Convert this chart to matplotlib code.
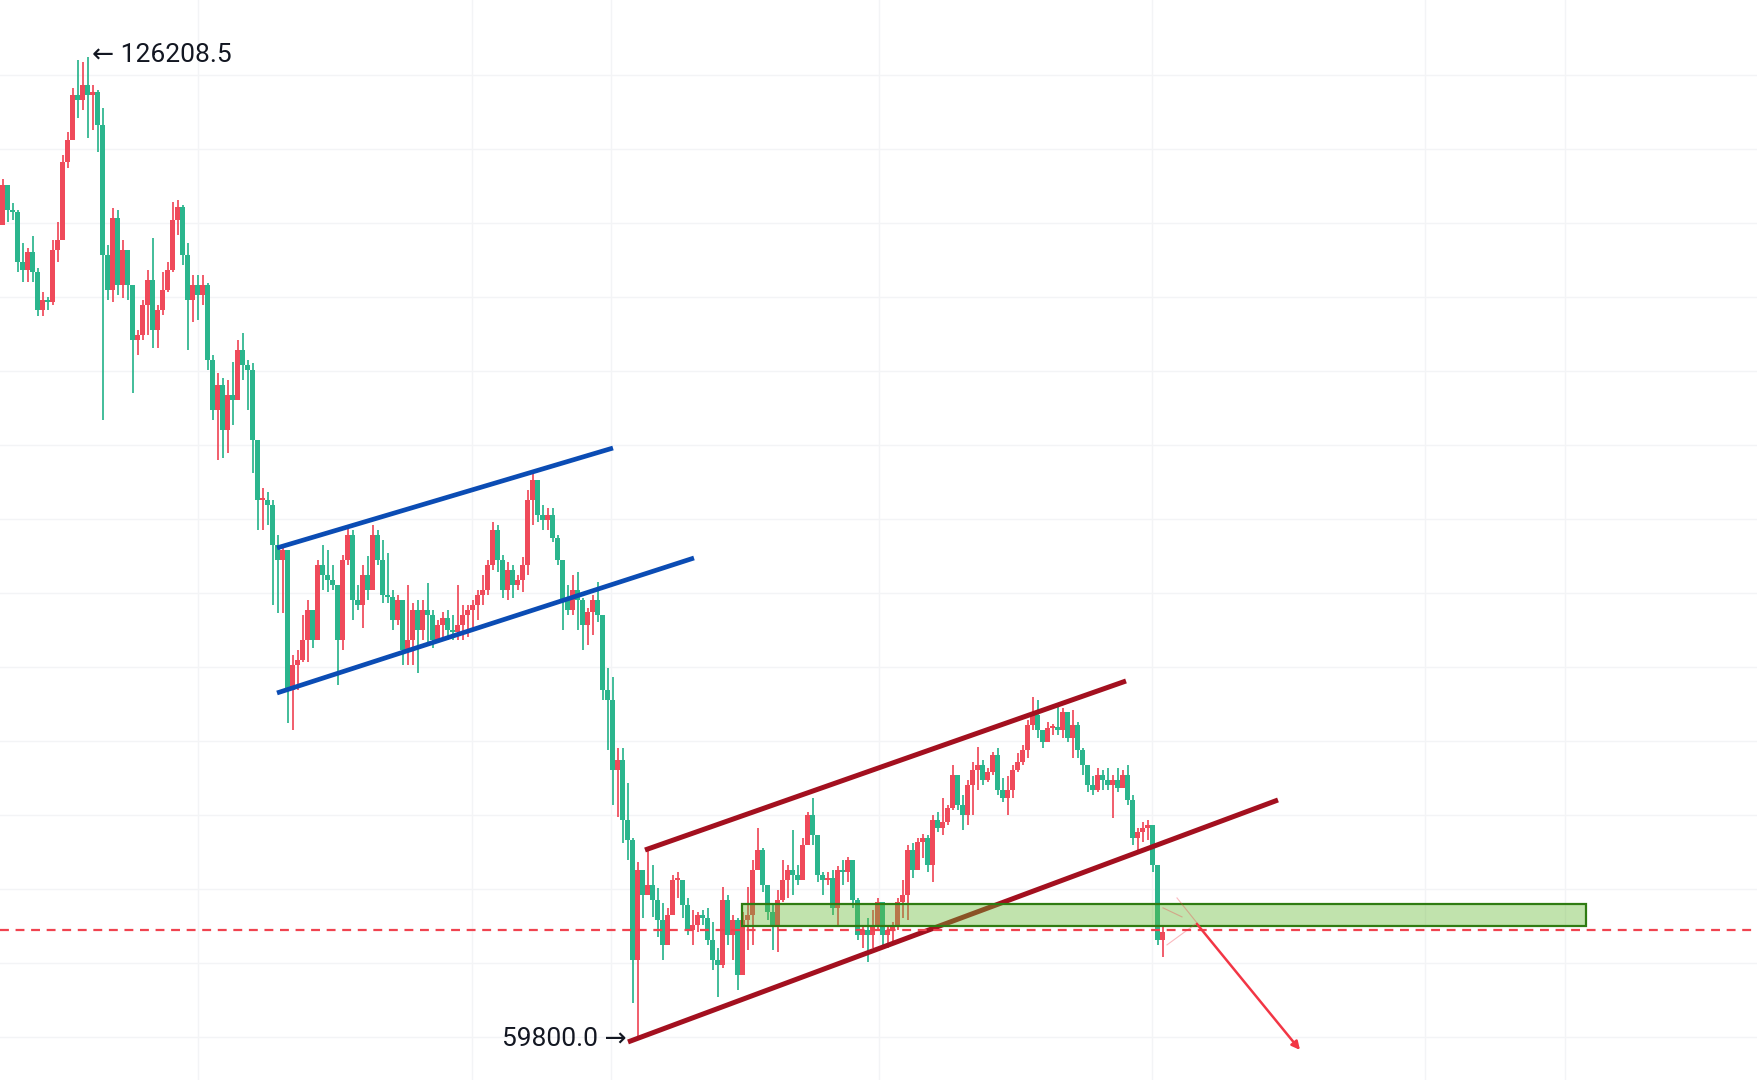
import numpy as np
import matplotlib
matplotlib.use('Agg')
import matplotlib.pyplot as plt
from matplotlib.patches import Rectangle

# BTC candles, prices in thousands of USD
OPEN_FIRST = 114.9
HIGH = [
    118.0, 117.57, 116.35, 115.88, 113.65, 113.32, 114.13, 111.96, 110.34, 110.0,
    113.86, 115.07, 119.6, 121.15, 124.12, 126.02, 125.88, 126.2085, 124.33, 123.99,
    122.77, 113.52, 116.02, 115.88, 113.86, 112.84, 110.48, 107.78, 109.8, 111.83,
    113.99, 109.46, 111.69, 112.37, 116.42, 116.56, 116.22, 113.65, 111.49, 111.49,
    111.49, 110.95, 106.09, 104.87, 104.53, 104.4, 105.61, 107.1, 107.57, 105.75,
    105.55, 100.34, 97.1, 96.83, 96.29, 93.92, 93.25, 92.57, 85.82, 86.16,
    88.52, 89.53, 88.72, 92.24, 93.25, 92.91, 91.9, 90.55, 92.57, 94.4,
    94.26, 90.55, 91.9, 92.51, 94.6, 94.26, 93.59, 92.71, 90.21, 89.87,
    89.53, 90.55, 89.33, 89.53, 89.53, 90.68, 88.86, 88.18, 88.72, 88.86,
    88.52, 90.55, 89.2, 89.2, 89.53, 90.21, 91.22, 92.24, 94.8, 94.6,
    92.57, 92.1, 91.9, 91.22, 92.44, 96.97, 98.11, 97.3, 95.95, 95.75,
    95.75, 93.92, 92.24, 90.55, 91.22, 91.43, 89.67, 88.99, 89.87, 90.75,
    88.18, 84.94, 84.33, 79.54, 79.54, 77.17, 73.45, 71.83, 70.96, 72.78,
    71.63, 70.08, 69.06, 68.73, 70.96, 71.16, 70.48, 69.4, 68.59, 68.46,
    68.59, 68.73, 67.78, 66.03, 70.14, 69.6, 68.25, 68.05, 68.46, 70.14,
    71.97, 74.13, 72.78, 70.28, 68.93, 69.94, 71.97, 71.63, 74.0, 71.63,
    73.45, 75.21, 76.16, 73.32, 71.16, 71.16, 71.29, 71.56, 71.97, 72.17,
    71.97, 69.4, 67.58, 68.05, 68.59, 69.4, 69.13, 67.58, 67.78, 69.4,
    70.62, 72.98, 73.12, 73.45, 73.72, 73.66, 75.01, 75.21, 76.16, 75.68,
    78.39, 77.71, 76.36, 77.37, 78.59, 79.6, 78.73, 78.18, 79.26, 79.54,
    77.51, 77.64, 78.39, 79.2, 79.74, 81.43, 82.98, 82.78, 80.75, 81.29,
    81.16, 82.44, 82.24, 81.56, 82.1, 81.29, 79.54, 78.39, 77.64, 78.18,
    78.05, 78.18, 77.71, 78.18, 78.05, 78.39, 76.36, 74.13, 74.54, 74.67,
    74.34, 71.63, 67.58,
]
LOW = [
    114.9, 115.07, 115.21, 111.69, 111.02, 111.02, 111.02, 108.72, 108.72, 109.13,
    109.46, 112.37, 116.22, 118.72, 120.61, 122.1, 122.64, 120.75, 121.29, 119.8,
    101.69, 109.8, 109.67, 110.14, 109.94, 109.8, 103.52, 106.09, 107.1, 107.44,
    106.56, 106.56, 108.79, 110.34, 111.69, 114.19, 112.17, 106.42, 108.32, 108.45,
    109.46, 105.07, 101.69, 98.99, 99.13, 99.47, 101.36, 103.05, 104.4, 102.37,
    98.11, 94.26, 94.26, 94.6, 89.2, 88.66, 88.66, 81.22, 80.75, 83.45,
    85.35, 85.35, 86.29, 86.83, 90.21, 90.07, 90.21, 83.79, 86.16, 91.9,
    88.18, 88.86, 87.64, 89.53, 91.22, 91.9, 89.33, 89.33, 87.51, 87.85,
    85.14, 85.14, 85.14, 84.6, 86.83, 86.63, 86.29, 86.83, 86.83, 86.83,
    86.83, 86.83, 86.83, 87.03, 87.64, 88.18, 89.2, 89.87, 91.56, 91.43,
    89.67, 89.53, 89.67, 90.21, 90.07, 91.22, 94.6, 94.8, 94.26, 94.26,
    93.45, 91.9, 87.51, 88.52, 88.52, 87.51, 86.16, 86.49, 87.17, 88.05,
    82.78, 79.4, 75.68, 74.87, 73.12, 71.97, 62.31, 59.8, 68.05, 69.8,
    68.12, 66.77, 65.21, 66.23, 68.25, 69.4, 68.05, 66.9, 66.23, 67.11,
    67.58, 66.23, 64.54, 62.71, 64.67, 66.23, 65.21, 63.19, 65.42, 65.89,
    66.23, 71.43, 69.8, 67.91, 65.89, 65.75, 69.13, 69.4, 69.6, 70.28,
    70.96, 72.98, 72.98, 70.48, 69.6, 70.28, 68.25, 67.58, 70.28, 70.48,
    68.73, 66.56, 66.03, 65.08, 66.03, 67.24, 66.23, 66.03, 66.43, 67.24,
    68.05, 67.91, 70.75, 71.29, 72.1, 71.16, 70.48, 73.86, 73.66, 74.34,
    75.35, 75.35, 74.0, 74.34, 75.01, 76.7, 77.04, 77.24, 77.71, 76.36,
    75.89, 75.01, 76.16, 77.91, 78.39, 78.86, 80.75, 80.21, 79.54, 80.08,
    80.41, 80.41, 80.21, 79.94, 78.86, 78.86, 77.71, 76.56, 76.36, 76.56,
    76.7, 76.7, 74.81, 76.56, 76.97, 75.68, 72.98, 72.64, 73.18, 73.32,
    71.16, 66.23, 65.42,
]
CLOSE = [
    117.57, 115.88, 115.75, 112.37, 111.83, 113.04, 111.69, 109.13, 109.8, 109.67,
    113.18, 113.86, 119.13, 120.61, 123.65, 123.31, 124.33, 123.65, 123.85, 121.63,
    112.84, 110.48, 115.34, 110.82, 113.18, 110.82, 107.1, 107.44, 109.46, 111.15,
    107.78, 109.13, 110.48, 111.83, 115.21, 116.09, 112.84, 109.8, 110.82, 110.14,
    110.82, 105.75, 102.37, 104.06, 101.02, 103.38, 103.05, 106.42, 105.41, 105.07,
    100.34, 96.29, 96.29, 95.95, 93.25, 92.24, 92.91, 83.45, 85.14, 85.48,
    86.83, 88.86, 86.83, 91.9, 91.22, 90.88, 90.55, 86.83, 92.24, 93.92,
    89.53, 89.2, 91.22, 90.21, 93.92, 92.24, 89.87, 89.74, 88.18, 89.53,
    86.16, 86.83, 88.86, 87.51, 88.86, 88.52, 86.83, 87.85, 88.32, 87.51,
    87.37, 87.85, 88.52, 88.86, 89.2, 89.87, 90.21, 91.9, 94.26, 92.24,
    90.21, 91.56, 90.55, 90.88, 91.9, 96.29, 97.64, 95.28, 94.94, 95.28,
    93.72, 92.24, 89.53, 88.86, 90.21, 89.53, 87.85, 88.72, 89.53, 88.52,
    83.45, 82.78, 78.05, 78.73, 74.67, 73.32, 65.21, 71.29, 69.6, 70.28,
    69.27, 67.91, 66.23, 68.25, 70.62, 70.62, 68.93, 67.24, 67.58, 68.25,
    68.05, 66.56, 65.21, 64.87, 69.27, 66.9, 67.91, 64.2, 67.91, 68.25,
    71.29, 72.64, 70.28, 68.46, 67.58, 69.27, 70.62, 71.29, 70.96, 70.62,
    72.98, 75.01, 73.66, 70.96, 70.62, 70.75, 68.73, 71.29, 71.16, 71.97,
    69.27, 66.9, 67.24, 66.9, 67.58, 69.13, 66.9, 67.24, 67.58, 69.13,
    69.6, 72.64, 71.29, 73.18, 73.45, 71.63, 74.67, 74.13, 74.54, 75.48,
    77.71, 75.68, 75.01, 77.04, 78.05, 78.39, 77.37, 77.91, 79.06, 76.7,
    76.16, 76.7, 78.05, 78.59, 79.4, 81.09, 81.77, 80.75, 79.94, 80.89,
    80.95, 80.75, 81.97, 80.21, 81.09, 79.4, 78.39, 77.04, 76.7, 77.71,
    77.37, 77.04, 77.37, 76.83, 77.71, 76.02, 73.45, 73.86, 74.13, 74.34,
    71.63, 66.56, 67.11,
]

# drawings: (candle index, price k)
BLUE_UPPER = [(54.9, 93.05), (122.1, 99.80)]
BLUE_LOWER = [(54.9, 83.25), (138.3, 92.37)]
RED_UPPER = [(128.5, 72.64), (224.7, 84.06)]
RED_LOWER = [(125.1, 59.67), (255.1, 76.02)]
ZONE_X = (147.9, 316.7)
ZONE_Y = (67.50, 68.98)
DASH_LEVEL = 67.22
ARROW_FROM = (238.9, 67.64)
ARROW_TO = (259.5, 59.13)
FAINT_SEGS = [
    [(232.1, 68.73), (235.9, 68.12)],
    [(234.9, 69.40), (238.9, 67.71)],
    [(232.9, 66.23), (238.9, 67.71)],
]

GRID_X = [39.1, 93.9, 121.7, 175.3, 229.9, 284.5, 312.5]
GRID_Y = np.arange(60, 126, 5)

UP_COLOR = '#ef4a5a'     # red = rising
DOWN_COLOR = '#2bb58d'   # green = falling
FONT = ['Roboto', 'DejaVu Sans']


def draw_candles(ax):
    c = np.array(CLOSE)
    o = np.array([OPEN_FIRST] + CLOSE[:-1])
    h = np.maximum.reduce([np.array(HIGH), o, c])
    l = np.minimum.reduce([np.array(LOW), o, c])
    x = np.arange(len(c))
    col = np.where(c >= o, UP_COLOR, DOWN_COLOR)
    ax.vlines(x, l, h, colors=col, lw=1.25, zorder=2)
    body = np.maximum(np.abs(c - o), 0.12)
    ax.bar(x, body, bottom=np.minimum(o, c), width=0.86, color=col,
           lw=0, zorder=2)
    return h, l


def main():
    fig = plt.figure(figsize=(17.57, 10.80), dpi=100)
    ax = fig.add_axes([0, 0, 1, 1])
    ax.set_xlim(-0.5, 350.9)
    ax.set_ylim(57.10, 130.07)

    ax.set_xticks(GRID_X)
    ax.set_yticks(GRID_Y)
    ax.grid(True, color='#f3f4f6', lw=1.0, zorder=0)
    ax.tick_params(length=0, labelbottom=False, labelleft=False)
    for s in ax.spines.values():
        s.set_visible(False)

    h, l = draw_candles(ax)

    for seg in (BLUE_UPPER, BLUE_LOWER):
        xs, ys = zip(*seg)
        ax.plot(xs, ys, color='#0b4cb4', lw=3.4, solid_capstyle='butt', zorder=3)
    for seg in (RED_UPPER, RED_LOWER):
        xs, ys = zip(*seg)
        ax.plot(xs, ys, color='#a3101f', lw=3.6, solid_capstyle='butt', zorder=3)

    ax.axhline(DASH_LEVEL, color='#f0434f', lw=1.6, dashes=(4, 3), zorder=3)

    zone = Rectangle((ZONE_X[0], ZONE_Y[0]), ZONE_X[1] - ZONE_X[0],
                     ZONE_Y[1] - ZONE_Y[0], facecolor=(0.40, 0.73, 0.20, 0.40),
                     edgecolor='#2f7c12', lw=1.6, zorder=4)
    ax.add_patch(zone)

    for seg in FAINT_SEGS:
        xs, ys = zip(*seg)
        ax.plot(xs, ys, color='#f23645', lw=0.8, alpha=0.35, zorder=5)
    ax.annotate('', xy=ARROW_TO, xytext=ARROW_FROM,
                arrowprops=dict(arrowstyle='-|>', color='#f23645', lw=1.8,
                                mutation_scale=12, shrinkA=0, shrinkB=0),
                zorder=5)

    i_hi = int(np.argmax(h))
    i_lo = int(np.argmin(l))
    ax.annotate(f'\u2190 {h[i_hi] * 1000:.1f}', xy=(i_hi, h[i_hi]),
                xytext=(3, 1.5), textcoords='offset points',
                ha='left', va='center', fontsize=19, family=FONT, color='#131722')
    ax.annotate(f'{l[i_lo] * 1000:.1f} \u2192', xy=(i_lo, l[i_lo]),
                xytext=(-7.5, 1), textcoords='offset points',
                ha='right', va='center', fontsize=19, family=FONT, color='#131722')

    fig.savefig('out.png', dpi=100)
    plt.close(fig)


if __name__ == '__main__':
    main()
